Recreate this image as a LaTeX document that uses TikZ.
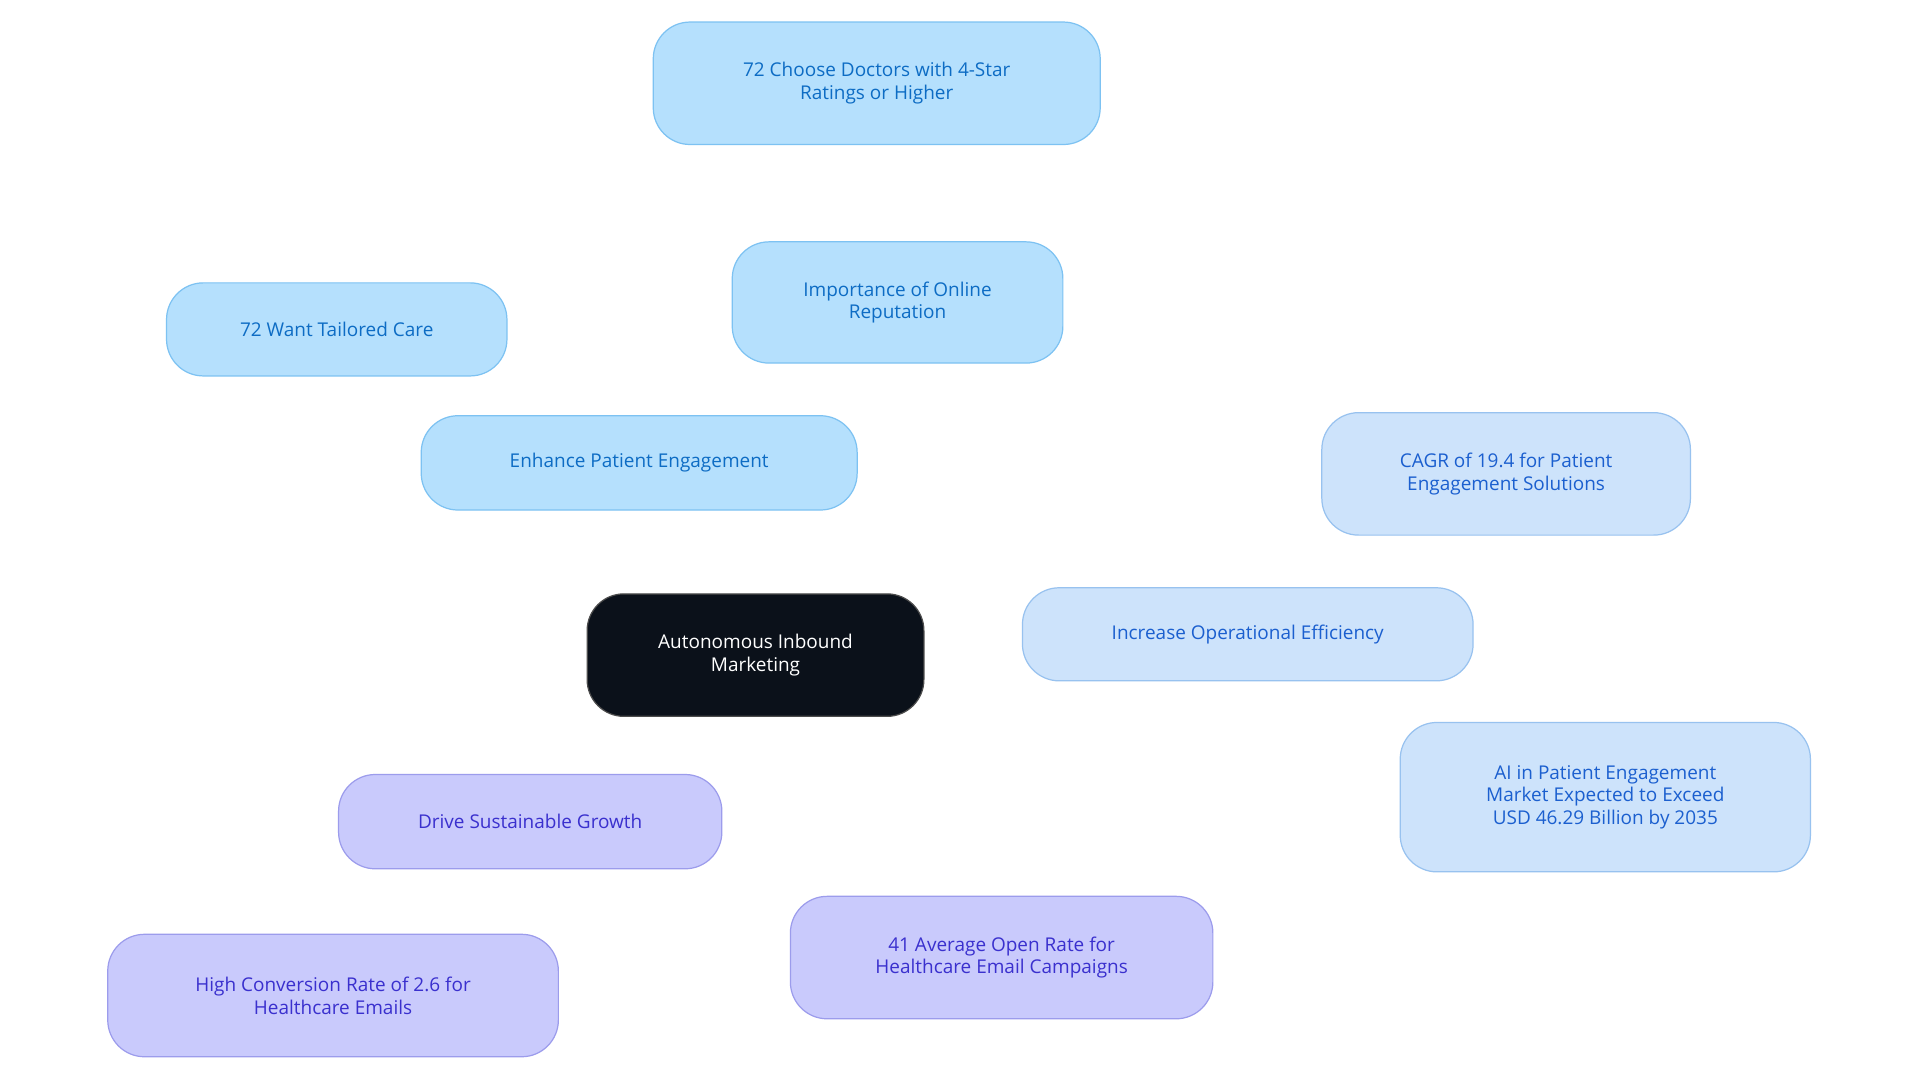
\documentclass[tikz,border=0pt]{standalone}
\usepackage{fontspec}
\setmainfont{Open Sans}
\usetikzlibrary{backgrounds}
\definecolor{bF}{HTML}{B5E0FD}\definecolor{bD}{HTML}{7DC2F2}\definecolor{bT}{HTML}{0D6CC4}
\definecolor{lF}{HTML}{CDE3FB}\definecolor{lD}{HTML}{98C2EF}\definecolor{lT}{HTML}{1B5FCF}
\definecolor{pF}{HTML}{C9CAFC}\definecolor{pD}{HTML}{9C9CEC}\definecolor{pT}{HTML}{3A30CE}
\definecolor{cF}{HTML}{0B111A}
\tikzset{
 box/.style={rectangle,rounded corners=30pt,line width=1pt,align=center,font=\fontsize{15.5}{18.5}\selectfont,inner sep=0pt},
 bbox/.style={box,fill=bF,draw=bD,text=bT},
 lbox/.style={box,fill=lF,draw=lD,text=lT},
 pbox/.style={box,fill=pF,draw=pD,text=pT},
 ed/.style={line width=2.2pt}
}
\begin{document}
\begin{tikzpicture}[x=1pt,y=-1pt]
\useasboundingbox[fill=white] (0,0) rectangle (1568,884.4);
\node[box,fill=cF,draw=gray!60!black,text=white,minimum width=275pt,minimum height=100pt] (c) at (617,535) {Autonomous Inbound\\Marketing};
\node[bbox,minimum width=356pt,minimum height=77pt] (e) at (522,378) {Enhance Patient Engagement};
\node[bbox,minimum width=278pt,minimum height=76pt] (w) at (275,269) {72 Want Tailored Care};
\node[bbox,minimum width=270pt,minimum height=99pt] (i) at (733,247) {Importance of Online\\Reputation};
\node[bbox,minimum width=365pt,minimum height=100pt] (d) at (716,68) {72 Choose Doctors with 4-Star\\Ratings or Higher};
\node[lbox,minimum width=368pt,minimum height=76pt] (o) at (1019,518) {Increase Operational Efficiency};
\node[lbox,minimum width=301pt,minimum height=100pt] (g) at (1230,387) {CAGR of 19.4 for Patient\\Engagement Solutions};
\node[lbox,minimum width=335pt,minimum height=122pt] (a) at (1311,651) {AI in Patient Engagement\\Market Expected to Exceed\\USD 46.29 Billion by 2035};
\node[pbox,minimum width=313pt,minimum height=77pt] (s) at (433,671) {Drive Sustainable Growth};
\node[pbox,minimum width=368pt,minimum height=100pt] (h) at (272,813) {High Conversion Rate of 2.6 for\\Healthcare Emails};
\node[pbox,minimum width=345pt,minimum height=100pt] (f) at (818,782) {41 Average Open Rate for\\Healthcare Email Campaigns};
\begin{pgfonlayer}{background}
\draw[ed,bD] (c) -- (e); \draw[ed,bD] (e) -- (w); \draw[ed,bD] (e) -- (i); \draw[ed,bD] (i) -- (d);
\draw[ed,lD] (c) -- (o); \draw[ed,lD] (o) -- (g); \draw[ed,lD] (o) -- (a);
\draw[ed,pD] (c) -- (s); \draw[ed,pD] (s) -- (h); \draw[ed,pD] (s) -- (f);
\end{pgfonlayer}
\end{tikzpicture}
\end{document}
